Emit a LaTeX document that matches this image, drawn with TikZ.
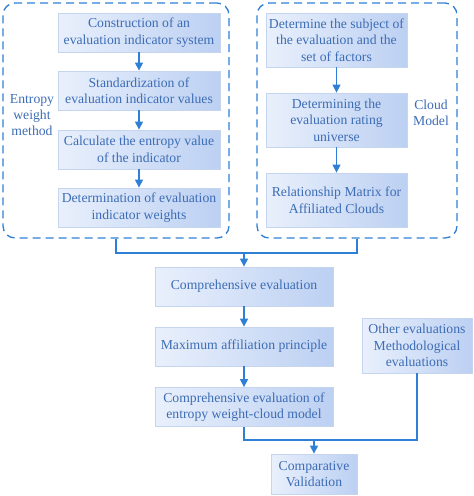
\documentclass[tikz,border=0pt]{standalone}
\usepackage{fontspec}
\setmainfont{Liberation Serif}
\usetikzlibrary{arrows.meta}
\definecolor{linec}{HTML}{2F7FD6}
\definecolor{txtc}{HTML}{3D6DB5}
\definecolor{fillL}{HTML}{E9F0FC}
\definecolor{fillR}{HTML}{BCD0F2}
\definecolor{bordc}{HTML}{C6D5EF}
\tikzset{
  stepbox/.style={draw=bordc, line width=0.8pt, left color=fillL, right color=fillR,
    text=txtc, align=center, inner sep=1pt,
    font=\fontsize{13.7}{16.5}\selectfont},
  groupbox/.style={draw=linec, line width=1.3pt, dash pattern=on 8pt off 5pt, rounded corners=12pt},
  conn/.style={draw=linec, line width=1.3pt},
  arr/.style={conn, -{Triangle[width=8pt,length=8pt]}},
  lbl/.style={text=txtc, align=center, font=\fontsize{13.7}{16}\selectfont}
}
\begin{document}
\begin{tikzpicture}[x=1pt,y=-1pt]
\useasboundingbox (0,0) rectangle (474,496);
% group boxes
\node[groupbox, minimum width=226pt, minimum height=235pt] (lg) at (116,120.5) {};
\node[groupbox, minimum width=200pt, minimum height=235pt] (rg) at (357,120.5) {};
% left column
\node[stepbox, minimum width=162pt, minimum height=39pt] (l1) at (139,32.5) {Construction of an\\evaluation indicator system};
\node[stepbox, minimum width=162pt, minimum height=39pt] (l2) at (139,90.5) {Standardization of\\evaluation indicator values};
\node[stepbox, minimum width=162pt, minimum height=39pt] (l3) at (139,149.5) {Calculate the entropy value\\of the indicator};
\node[stepbox, minimum width=162pt, minimum height=39pt] (l4) at (139,207.5) {Determination of evaluation\\indicator weights};
\node[lbl] (lt) at (32,115) {Entropy\\weight\\method};
% right column
\node[stepbox, minimum width=141pt, minimum height=54pt] (r1) at (336.5,40) {Determine the subject of\\the evaluation and the\\set of factors};
\node[stepbox, minimum width=141pt, minimum height=54pt] (r2) at (336.5,120) {Determining the\\evaluation rating\\universe};
\node[stepbox, minimum width=141pt, minimum height=54pt] (r3) at (336.5,200) {Relationship Matrix for\\Affiliated Clouds};
\node[lbl] (rt) at (431,113) {Cloud\\Model};
% lower part
\node[stepbox, minimum width=178pt, minimum height=39pt] (c1) at (244,286.5) {Comprehensive evaluation};
\node[stepbox, minimum width=178pt, minimum height=39pt] (c2) at (244,346.5) {Maximum affiliation principle};
\node[stepbox, minimum width=178pt, minimum height=39pt] (c3) at (244,407) {Comprehensive evaluation of\\entropy weight-cloud model};
\node[stepbox, minimum width=110pt, minimum height=55pt] (ot) at (417,345.5) {Other evaluations\\Methodological\\evaluations};
\node[stepbox, minimum width=86pt, minimum height=40pt] (cv) at (314,474) {Comparative\\Validation};
% arrows
\draw[arr] (l1) -- (l2);
\draw[arr] (l2) -- (l3);
\draw[arr] (l3) -- (l4);
\draw[arr] (r1) -- (r2);
\draw[arr] (r2) -- (r3);
\coordinate (j1) at (244,253);
\draw[conn] (lg.south) |- (j1) -| (rg.south);
\draw[arr] (j1) -- (c1.north);
\draw[arr] (c1) -- (c2);
\draw[arr] (c2) -- (c3);
\coordinate (j2) at (314,440);
\draw[conn] (c3.south) |- (j2) -| (ot.south);
\draw[arr] (j2) -- (cv.north);
\end{tikzpicture}
\end{document}
